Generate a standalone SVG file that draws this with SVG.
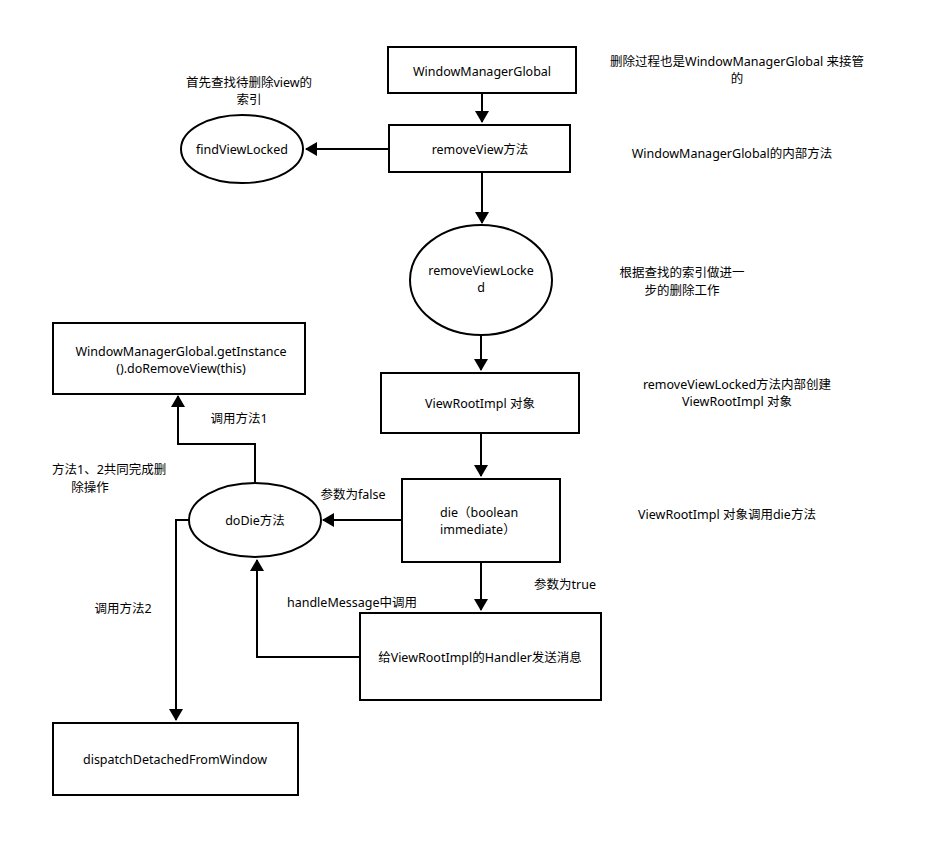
<svg xmlns="http://www.w3.org/2000/svg" width="940" height="857" viewBox="0 0 940 857">
<style>
text{font-family:"Noto Sans","Noto Sans CJK SC",sans-serif;font-size:12.5px;fill:#000}
.n{fill:#fff;stroke:#000;stroke-width:2}
.c{fill:none;stroke:#000;stroke-width:2}
.m{text-anchor:middle}
</style>
<defs><marker id="b" markerWidth="12" markerHeight="14" refX="11" refY="7" orient="auto" markerUnits="userSpaceOnUse"><path d="M0,0L12,7L0,14z" fill="#000"/></marker></defs>
<rect width="940" height="857" fill="#fff"/>
<g id="connectors">
<path class="c" d="M482,93V122" marker-end="url(#b)"/>
<path class="c" d="M389,149H306" marker-end="url(#b)"/>
<path class="c" d="M482,172V223" marker-end="url(#b)"/>
<path class="c" d="M481,335V370" marker-end="url(#b)"/>
<path class="c" d="M481,433V476" marker-end="url(#b)"/>
<path class="c" d="M402,520H323" marker-end="url(#b)"/>
<path class="c" d="M481,562V610" marker-end="url(#b)"/>
<path class="c" d="M360,657H257V560" marker-end="url(#b)"/>
<path class="c" d="M255,483V444H178V396" marker-end="url(#b)"/>
<path class="c" d="M189,520H176V720" marker-end="url(#b)"/>
<text x="353" y="499" class="m">参数为false</text>
<text x="565" y="589" class="m">参数为true</text>
<text x="352" y="607" class="m">handleMessage中调用</text>
<text x="239" y="423" class="m">调用方法1</text>
<text x="123" y="613" class="m">调用方法2</text>
</g>
<g id="n1"><rect class="n" x="388" y="47" width="188" height="46"/><text x="482" y="76" class="m">WindowManagerGlobal</text></g>
<g id="n2"><rect class="n" x="389" y="125" width="181" height="47"/><text x="480" y="154" class="m">removeView方法</text></g>
<g id="n3"><ellipse class="n" cx="242" cy="149" rx="61" ry="34"/><text x="242" y="154" class="m">findViewLocked</text></g>
<g id="n4"><ellipse class="n" cx="481" cy="280" rx="71" ry="55"/><text x="481" y="275" class="m">removeViewLocke</text><text x="481" y="292" class="m">d</text></g>
<g id="n5"><rect class="n" x="381" y="373" width="198" height="60"/><text x="480" y="408" class="m">ViewRootImpl 对象</text></g>
<g id="n6"><rect class="n" x="402" y="479" width="158" height="83"/><text x="440" y="517">die（boolean</text><text x="440" y="534">immediate）</text></g>
<g id="n7"><ellipse class="n" cx="255" cy="520" rx="66" ry="37"/><text x="255" y="525" class="m">doDie方法</text></g>
<g id="n8"><rect class="n" x="360" y="613" width="241" height="87"/><text x="480" y="662" class="m">给ViewRootImpl的Handler发送消息</text></g>
<g id="n9"><rect class="n" x="53" y="323" width="252" height="71"/><text x="181" y="356" class="m">WindowManagerGlobal.getInstance</text><text x="181" y="373" class="m">().doRemoveView(this)</text></g>
<g id="n10"><rect class="n" x="53" y="723" width="245" height="72"/><text x="175" y="764" class="m">dispatchDetachedFromWindow</text></g>
<g id="notes">
<text x="737" y="66" class="m">删除过程也是WindowManagerGlobal 来接管</text>
<text x="737" y="83" class="m">的</text>
<text x="249" y="87" class="m">首先查找待删除view的</text>
<text x="249" y="104" class="m">索引</text>
<text x="732" y="158" class="m">WindowManagerGlobal的内部方法</text>
<text x="682" y="277" class="m">根据查找的索引做进一</text>
<text x="682" y="295" class="m">步的删除工作</text>
<text x="737" y="389" class="m">removeViewLocked方法内部创建</text>
<text x="737" y="406" class="m">ViewRootImpl 对象</text>
<text x="727" y="519" class="m">ViewRootImpl 对象调用die方法</text>
<text x="52" y="474">方法1、2共同完成删</text>
<text x="90" y="492" class="m">除操作</text>
</g>
</svg>
